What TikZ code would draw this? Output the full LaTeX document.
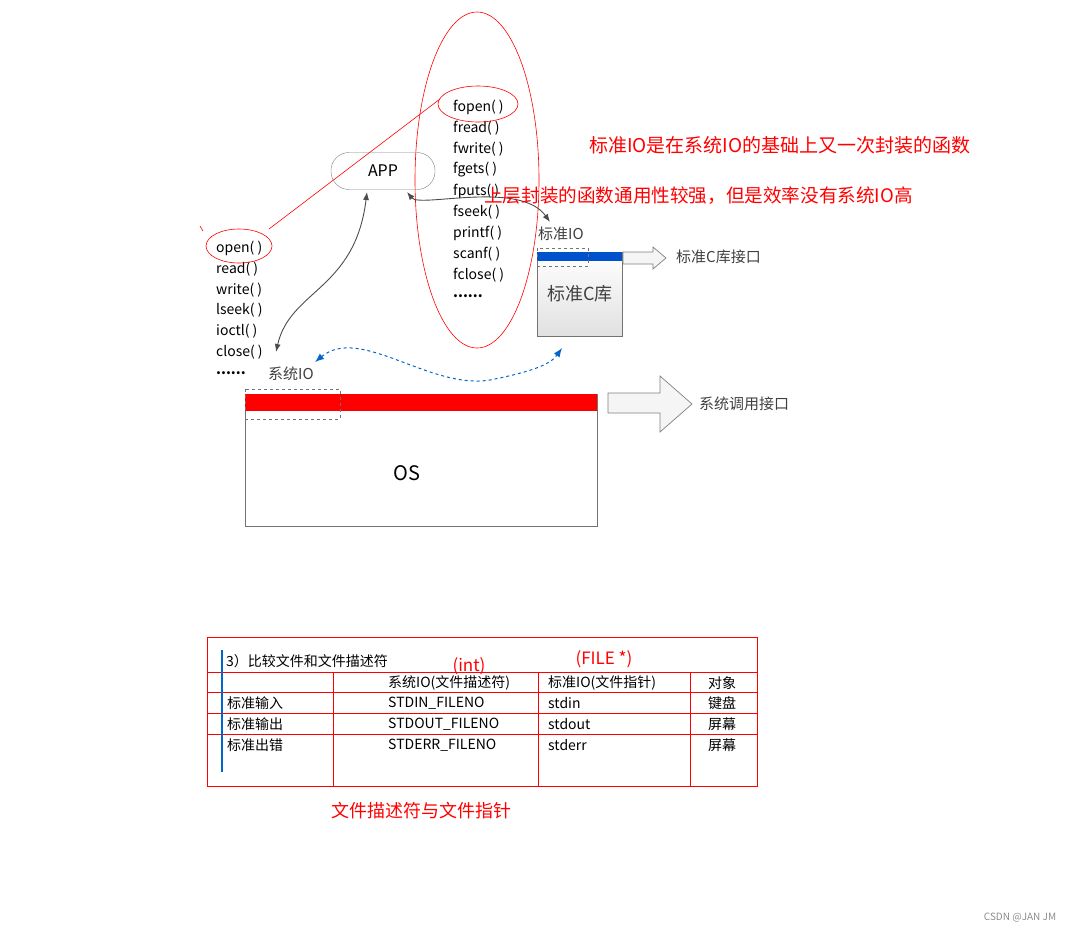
\documentclass[tikz,border=0pt]{standalone}
\usepackage{fontspec}
\setmainfont{Noto Sans CJK SC}
\usetikzlibrary{arrows.meta}
\begin{document}
\begin{tikzpicture}[x=1pt,y=-1pt,
  lst/.style={anchor=west,font=\fontsize{14}{14}\selectfont,inner sep=0},
  lbl/.style={anchor=west,font=\fontsize{15}{15}\selectfont,inner sep=0,text=black!75},
  rtxt/.style={anchor=west,font=\fontsize{19}{19}\selectfont,inner sep=0,text=red},
  tt/.style={anchor=west,font=\fontsize{14}{14}\selectfont,inner sep=0},
  redl/.style={red,line width=0.6pt},
  hollow/.style={draw=black!50,fill=black!4,line width=0.7pt},
  garr/.style={black!70,line width=0.9pt,{Latex[length=8pt,width=6pt]}-{Latex[length=8pt,width=6pt]}}]
\useasboundingbox (0,0) rectangle (1079,932);
% OS
\node[draw=black!55,minimum width=352,minimum height=132,anchor=north west,inner sep=0] (os) at (245,394) {};
\fill[red] (245,394) rectangle (597,411);
\node[font=\fontsize{20}{20}\selectfont] (ostx) at (407,473) {OS};
\draw[black!55,dashed,line width=0.9pt] (245,389) rectangle (340,419);
\draw[hollow] (608,393) -- (660,393) -- (660,376) -- (692,404) -- (660,432) -- (660,413) -- (608,413) -- cycle;
\node[lbl] (l1) at (699,404) {系统调用接口};
% C lib
\node[draw=black!55,top color=white,bottom color=black!12,minimum width=85,minimum height=84,anchor=north west,inner sep=0] (clib) at (537,252) {};
\fill[blue!60!cyan!80!black] (537,252) rectangle (622,261);
\draw[black!55,dashed,line width=0.9pt] (537,248) rectangle (588,266);
\node[font=\fontsize{18}{18}\selectfont,text=black!75] (ct) at (580,294) {标准C库};
\node[lbl] (l2) at (538,234) {标准IO};
\draw[hollow] (623,252) -- (653,252) -- (653,247) -- (666,258) -- (653,269) -- (653,264) -- (623,264) -- cycle;
\node[lbl] (l3) at (676,257) {标准C库接口};
% APP
\node[draw=black!50,rounded corners=18,minimum width=104,minimum height=37,inner sep=0,font=\fontsize{16}{16}\selectfont] (app) at (383,171) {APP};
% lists
\foreach \t [count=\i] in {fopen( ),fread( ),fwrite( ),fgets( ),fputs( ),fseek( ),printf( ),scanf( ),fclose( ),\textbf{......}}
  \node[lst] (f\i) at (453,{86+21*\i}) {\t};
\foreach \t [count=\i] in {open( ),read( ),write( ),lseek( ),ioctl( ),close( ),\textbf{......}}
  \node[lst] (o\i) at (216,{227+20.9*\i}) {\t};
\node[lbl] (sysio) at (268,374) {系统IO};
% red ellipses
\draw[redl] (477,180) ellipse [x radius=62,y radius=168];
\draw[redl] (478,104) ellipse [x radius=40,y radius=18];
\draw[redl] (239,246) ellipse [x radius=33,y radius=17];
\coordinate (r1) at (269,229); \coordinate (r2) at (440,99);
\draw[redl] (r1) -- (r2);
\coordinate (t1) at (200,226); \coordinate (t2) at (203,231);
\draw[redl] (t1) -- (t2);
% grey arrows
\coordinate (p1) at (367,192); \coordinate (p2) at (276,352);
\draw[garr] (p1) .. controls (355,290) and (290,290) .. (p2);
\coordinate (q1) at (407,192); \coordinate (q2) at (550,222);
\draw[garr] (q1) .. controls (420,208) and (520,180) .. (q2);
% blue dashed
\coordinate (b1) at (315,362); \coordinate (b2) at (562,348);
\draw[blue!50!cyan!80!black,dashed,line width=1pt,{Latex[length=9pt,width=7pt]}-{Latex[length=9pt,width=7pt]}] (b1) .. controls (360,325) and (430,390) .. (490,380) .. controls (530,372) and (550,365) .. (b2);
% red texts
\node[rtxt] (rt1) at (589,145) {标准IO是在系统IO的基础上又一次封装的函数};
\node[rtxt,font=\fontsize{18.6}{18.6}\selectfont] (rt2) at (484,196) {上层封装的函数通用性较强，但是效率没有系统IO高};
% table
\node[draw=red,minimum width=550,minimum height=149,anchor=north west,inner sep=0,line width=0.8pt] (tab) at (207,637) {};
\foreach \y in {672,692,713,734} \draw[red,line width=0.8pt] (207,\y) -- (757,\y);
\foreach \x in {333,538,690} \draw[red,line width=0.8pt] (\x,672) -- (\x,786);
\draw[blue!50!cyan!80!black,line width=1.5pt] (222,650) -- (222,772);
\node[tt] (h0) at (226,661) {3）比较文件和文件描述符};
\node[tt] (h1) at (388,683) {系统IO(文件描述符)};
\node[tt] (h2) at (548,683) {标准IO(文件指针)};
\node[tt] (h3) at (708,683) {对象};
\node[tt] (c11) at (227,703) {标准输入};
\node[tt] (c12) at (388,703) {STDIN\_FILENO};
\node[tt] (c13) at (548,703) {stdin};
\node[tt] (c14) at (708,703) {键盘};
\node[tt] (c21) at (227,724) {标准输出};
\node[tt] (c22) at (388,724) {STDOUT\_FILENO};
\node[tt] (c23) at (548,724) {stdout};
\node[tt] (c24) at (708,724) {屏幕};
\node[tt] (c31) at (227,745) {标准出错};
\node[tt] (c32) at (388,745) {STDERR\_FILENO};
\node[tt] (c33) at (548,745) {stderr};
\node[tt] (c34) at (708,745) {屏幕};
\node[font=\fontsize{17}{17}\selectfont,text=red] (int) at (469,666) {(int)};
\node[font=\fontsize{17}{17}\selectfont,text=red] (fp) at (604,659) {(FILE *)};
\node[font=\fontsize{18}{18}\selectfont,text=red] (cap) at (421,811) {文件描述符与文件指针};
\node[font=\fontsize{10}{10}\selectfont,text=black!45] (wm) at (1020,918) {CSDN @JAN JM};
\end{tikzpicture}
\end{document}
